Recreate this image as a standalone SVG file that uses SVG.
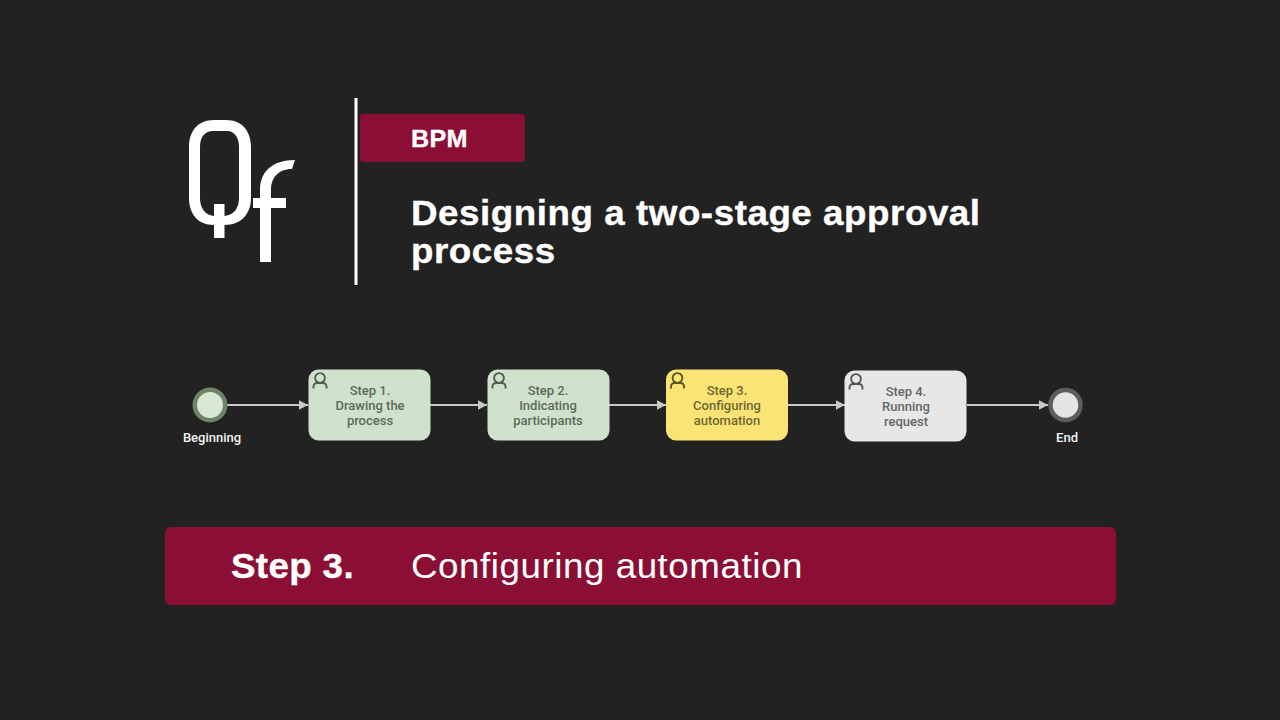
<svg xmlns="http://www.w3.org/2000/svg" width="1280" height="720" viewBox="0 0 1280 720">
<defs>
<style>
text{font-family:Roboto,"Liberation Sans",sans-serif}
.h{font-family:"Liberation Sans",Arial,sans-serif;font-weight:700;fill:#fff;stroke:#fff;stroke-width:.35px}
.t{font-size:13px;font-weight:500;text-anchor:middle}
.l{font-size:13px;font-weight:500;fill:#f2f2f2;text-anchor:middle}
.c{fill:none;stroke:#c9c9c9;stroke-width:2;marker-end:url(#a)}
</style>
<marker id="a" markerUnits="userSpaceOnUse" markerWidth="10" markerHeight="10" refX="9" refY="5" orient="auto"><path d="M0 0.300L9 5L0 9.700z" fill="#c9c9c9"/></marker>
<g id="user" fill="none" stroke-width="1.900"><circle cx="0" cy="0" r="4.900"/><path d="M-6.500 10.500V8.500C-6.500 6.300 -5 5 -3 5H3C5 5 6.500 6.300 6.500 8.500V10.500"/></g>
</defs>
<rect width="1280" height="720" fill="#222222"/>
<g id="logo">
<path fill="#fff" fill-rule="evenodd" d="M214 120H226C242 120 251 131 251 147V198C251 214 241 225 224.500 225V238H214V225C198 225 189 214 189 198V147C189 131 198 120 214 120ZM213 131C205 131 200 137 200 147V198C200 208 205 215 214 216V204H224.500V216C234 215 239 208 239 198V147C239 137 234 131 227 131Z"/>
<path fill="#fff" d="M260 262V208H253V198H260V190C260 172 272 160 295 160L292 169C278 169 271 178 271 190V198H286V208H271V262Z"/>
</g>
<rect id="divider" x="354.500" y="98" width="3" height="187" fill="#fff"/>
<g id="tag"><rect x="360" y="114" width="165" height="48" rx="3" fill="#8b0f35"/><text class="h" transform="translate(411 146.500) scale(1.05 1)" font-size="24" style="letter-spacing:.3px">BPM</text></g>
<g id="title">
<text class="h" transform="translate(411 225) scale(1.05 1)" font-size="35" style="letter-spacing:.52px">Designing a two-stage approval</text>
<text class="h" transform="translate(411 263) scale(1.05 1)" font-size="35" style="letter-spacing:.52px">process</text>
</g>
<g id="connectors">
<path class="c" d="M227 405H308"/>
<path class="c" d="M430 405H487"/>
<path class="c" d="M609 405H666"/>
<path class="c" d="M788 405H845"/>
<path class="c" d="M967 405H1048"/>
</g>
<g id="start"><circle cx="210" cy="405" r="15.200" fill="#d9e8d3" stroke="#6e8467" stroke-width="4.500"/><text class="l" x="212" y="441.500">Beginning</text></g>
<g id="step1"><rect x="308.500" y="369.500" width="122" height="71" rx="10" fill="#d0e2cc"/>
<use href="#user" x="320" y="378" stroke="#525c50"/>
<text class="t" fill="#5c6b5a"><tspan x="370" y="394.500">Step 1.</tspan><tspan x="370" y="409.500">Drawing the</tspan><tspan x="370" y="424.500">process</tspan></text></g>
<g id="step2"><rect x="487.500" y="369.500" width="122" height="71" rx="10" fill="#d0e2cc"/>
<use href="#user" x="499" y="378" stroke="#525c50"/>
<text class="t" fill="#5c6b5a"><tspan x="548" y="394.500">Step 2.</tspan><tspan x="548" y="409.500">Indicating</tspan><tspan x="548" y="424.500">participants</tspan></text></g>
<g id="step3"><rect x="666" y="369.500" width="122" height="71" rx="10" fill="#fbe475"/>
<use href="#user" x="677.500" y="378" stroke="#5c5526"/>
<text class="t" fill="#6e6730"><tspan x="727" y="394.500">Step 3.</tspan><tspan x="727" y="409.500">Configuring</tspan><tspan x="727" y="424.500">automation</tspan></text></g>
<g id="step4"><rect x="844.500" y="370.500" width="122" height="71" rx="10" fill="#e7e7e7"/>
<use href="#user" x="856" y="379" stroke="#555"/>
<text class="t" fill="#666"><tspan x="906" y="395.500">Step 4.</tspan><tspan x="906" y="410.500">Running</tspan><tspan x="906" y="425.500">request</tspan></text></g>
<g id="end"><circle cx="1065.500" cy="405" r="15" fill="#e4e4e4" stroke="#5d5d5d" stroke-width="4.500"/><text class="l" x="1067" y="441.500">End</text></g>
<g id="banner"><rect x="165" y="527" width="951" height="78" rx="6" fill="#8b0f35"/>
<text class="h" transform="translate(231 578) scale(1.05 1)" font-size="35" style="letter-spacing:.34px">Step 3.</text>
<text transform="translate(411 578) scale(1.05 1)" font-size="35" fill="#fff" style="font-family:'Liberation Sans',Arial,sans-serif;letter-spacing:.52px">Configuring automation</text></g>
</svg>
